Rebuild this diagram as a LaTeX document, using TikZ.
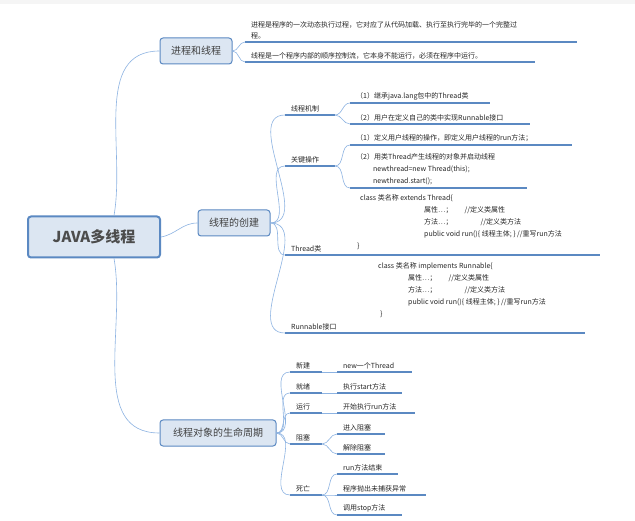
\documentclass[tikz,border=0pt]{standalone}
\usepackage{fontspec}
\setmainfont{Noto Sans CJK SC}
\definecolor{mapline}{HTML}{5B89C2}
\definecolor{mapconn}{HTML}{8DB3E2}
\definecolor{mapfill}{HTML}{DCE6F2}
\tikzset{
  uline/.style={line width=1.6pt, color=mapline},
  conn/.style={line width=0.6pt, color=mapconn},
  topic/.style={draw=mapline, fill=mapfill, line width=1pt, rounded corners=3pt, inner xsep=8pt, minimum height=26pt, font=\fontsize{10}{12}\selectfont, text=black!75},
  leaf/.style={anchor=south west, inner sep=0pt, align=left, font=\fontsize{7}{12}\selectfont, text=black!85}
}
% #1 name, #2 x, #3 y of the underline, #4 length, #5 text
\newcommand\leaf[5]{%
  \coordinate (#1) at (#2,#3);
  \coordinate (#1-e) at (#2+#4,#3);
  \draw[uline] (#1) -- (#1-e);
  \node[leaf] (#1-t) at ([xshift=6pt,yshift=3pt]#1) {#5};
}
\begin{document}
\begin{tikzpicture}[x=1pt,y=-1pt]
\useasboundingbox[fill=white] (0,0) rectangle (635,521);
\fill[black!4] (0,0) rectangle (635,4);

% main topics
\node[topic, line width=2pt, minimum width=132pt, minimum height=41pt, font=\fontsize{15}{18}\bfseries\selectfont, text=black!70] (root) at (94,237) {JAVA多线程};
\node[topic, minimum width=72pt] (proc) at (196,51) {进程和线程};
\node[topic, minimum width=72pt] (create) at (234,223) {线程的创建};
\node[topic, minimum width=116pt] (life) at (218,433) {线程对象的生命周期};

\draw[conn] ([xshift=20pt]root.north) to[out=80,in=180] (proc.west);
\draw[conn] (root.east) to[out=10,in=180] (create.west);
\draw[conn] ([xshift=20pt]root.south) to[out=-80,in=180] (life.west);

% process and thread
\leaf{p1}{245}{42}{332}{进程是程序的一次动态执行过程，它对应了从代码加载、执行至执行完毕的一个完整过\\[-1pt]程。}
\leaf{p2}{245}{62}{290}{线程是一个程序内部的顺序控制流，它本身不能运行，必须在程序中运行。}
\draw[conn] (proc.east) to[out=0,in=180] (p1);
\draw[conn] (proc.east) to[out=0,in=180] (p2);

% creating threads
\leaf{mech}{285}{115}{50}{线程机制}
\leaf{key}{285}{166}{50}{关键操作}
\leaf{tcls}{285}{255}{315}{Thread类}
\leaf{rcls}{285}{333}{300}{Runnable接口}
\foreach \s in {mech,key,tcls,rcls}
  \draw[conn] (create.east) to[out=0,in=180] (\s);

\leaf{mech1}{350}{103}{140}{（1）继承java.lang包中的Thread类}
\leaf{mech2}{350}{124}{180}{（2）用户在定义自己的类中实现Runnable接口}
\leaf{key1}{350}{145}{222}{（1）定义用户线程的操作，即定义用户线程的run方法；}
\leaf{key2}{350}{188}{177}{（2）用类Thread产生线程的对象并启动线程\\\hspace*{17pt}newthread=new Thread(this);\\\hspace*{17pt}newthread.start();}
\foreach \s in {mech1,mech2}
  \draw[conn] (mech-e) to[out=0,in=180] (\s);
\foreach \s in {key1,key2}
  \draw[conn] (key-e) to[out=0,in=180] (\s);

\node[leaf] (tcode) at (357,250) {\hspace*{3pt}class 类名称 extends Thread\{\\
\hspace*{67pt}属性…；\hspace{12pt}//定义类属性\\
\hspace*{67pt}方法…；\hspace{28pt}//定义类方法\\
\hspace*{67pt}public void run()\{\ 线程主体; \} //重写run方法\\
\}};
\node[leaf] (rcode) at (378,318) {class 类名称 implements Runnable\{\\
\hspace*{30pt}属性…；\hspace{12pt}//定义类属性\\
\hspace*{30pt}方法…；\hspace{28pt}//定义类方法\\
\hspace*{30pt}public void run()\{\ 线程主体; \} //重写run方法\\
\hspace*{2pt}\}};

% life cycle
\leaf{new}{290}{372}{32}{新建}
\leaf{ready}{290}{393}{32}{就绪}
\leaf{run}{290}{413}{32}{运行}
\leaf{block}{290}{444}{32}{阻塞}
\leaf{dead}{290}{495}{32}{死亡}
\foreach \s in {new,ready,run,block,dead}
  \draw[conn] (life.east) to[out=0,in=180] (\s);

\leaf{new1}{337}{372}{75}{new一个Thread}
\leaf{ready1}{337}{393}{65}{执行start方法}
\leaf{run1}{337}{413}{78}{开始执行run方法}
\leaf{block1}{337}{434}{48}{进入阻塞}
\leaf{block2}{337}{454}{48}{解除阻塞}
\leaf{dead1}{337}{474}{61}{run方法结束}
\leaf{dead2}{337}{495}{89}{程序抛出未捕获异常}
\leaf{dead3}{337}{515}{65}{调用stop方法}
\draw[conn] (new-e) -- (new1);
\draw[conn] (ready-e) -- (ready1);
\draw[conn] (run-e) -- (run1);
\foreach \s in {block1,block2}
  \draw[conn] (block-e) to[out=0,in=180] (\s);
\foreach \s in {dead1,dead2,dead3}
  \draw[conn] (dead-e) to[out=0,in=180] (\s);
\end{tikzpicture}
\end{document}
